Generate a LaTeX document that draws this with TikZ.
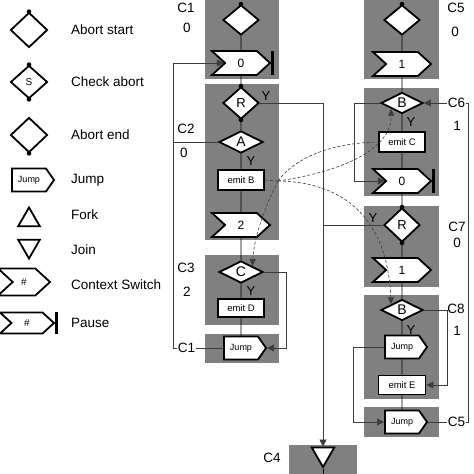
\documentclass[tikz,border=0pt]{standalone}
\usepackage{fontspec}
\setmainfont{Liberation Sans}
\usetikzlibrary{arrows.meta,positioning,shapes.geometric,shapes.symbols}
\definecolor{block_gray}{RGB}{128,128,128}
\definecolor{wire_gray}{RGB}{60,60,60}

\begin{document}
\begin{tikzpicture}[
      x=1pt, y=-1pt,
      abort/.style={
         diamond,
         draw=black,
         fill=white,
         line width=1.8pt,
         inner sep=0pt,
         minimum width=36pt,
         minimum height=30pt,
         font=\fontsize{10}{10}\selectfont},
      check/.style={
         abort,
         minimum height=32pt,
         font=\fontsize{13}{13}\selectfont},
      test/.style={
         abort,
         minimum width=44pt,
         minimum height=22pt,
         font=\fontsize{14}{14}\selectfont},
      emitbox/.style={
         rectangle,
         draw=black,
         fill=white,
         line width=1.8pt,
         inner sep=0pt,
         minimum width=46pt,
         minimum height=20pt,
         font=\fontsize{9.5}{9.5}\selectfont},
      jumpbox/.style={
         signal,
         signal to=east,
         signal pointer angle=110,
         draw=black,
         fill=white,
         line width=1.8pt,
         inner sep=0pt,
         minimum width=42pt,
         minimum height=23pt,
         font=\fontsize{9}{9}\selectfont},
      switchbox/.style={
         signal,
         signal to=east,
         signal from=west,
         signal pointer angle=85,
         draw=black,
         fill=white,
         line width=1.8pt,
         inner sep=0pt,
         minimum width=58pt,
         minimum height=24pt,
         font=\fontsize{12}{12}\selectfont},
      forkjoin/.style={
         regular polygon,
         regular polygon sides=3,
         draw=black,
         fill=white,
         line width=1.8pt,
         inner sep=0pt,
         minimum size=26pt},
      pausebar/.style={draw=black, line width=2.4pt},
      trunk/.style={draw=black, line width=0.8pt},
      wire/.style={draw=wire_gray, line width=0.6pt},
      arrow_wire/.style={wire, -{Triangle[length=7pt,width=7pt]}},
      sig_dash/.style={draw=wire_gray, dash pattern=on 3pt off 2pt, line width=0.6pt},
      arrow_sig/.style={sig_dash, -{Triangle[length=7pt,width=6pt]}},
      lbl/.style={font=\fontsize{13.5}{14}\selectfont, inner sep=1pt},
   ]
   \clip (0,0) rectangle (474,474);
   \useasboundingbox (0,0) rectangle (474,474);

   % legend
   \node[abort, minimum width=37pt, minimum height=35pt] (key_start) at (29,30) {};
   \node[abort, minimum width=37pt, minimum height=33pt] (key_check) at (29,82) {S};
   \node[abort, minimum width=37pt, minimum height=35pt] (key_end) at (29,135) {};
   \node[jumpbox] (key_jump) at (29,180) {Jump};
   \node[forkjoin, minimum size=25pt] (key_fork) at (29,220) {};
   \node[forkjoin, minimum size=25pt, shape border rotate=180] (key_join) at (29,246) {};
   \node[switchbox, minimum width=52pt, minimum height=27pt, font=\fontsize{10}{10}\selectfont] (key_switch) at (24,282) {\#};
   \node[switchbox, minimum width=54pt, minimum height=21pt, font=\fontsize{10}{10}\selectfont] (key_pause) at (27,323) {\#};

   \node[lbl, anchor=west] (key_start_txt) at (70,30) {Abort start};
   \node[lbl, anchor=west] (key_check_txt) at (70,82) {Check abort};
   \node[lbl, anchor=west] (key_end_txt) at (70,135) {Abort end};
   \node[lbl, anchor=west] (key_jump_txt) at (70,180) {Jump};
   \node[lbl, anchor=west] (key_fork_txt) at (70,215) {Fork};
   \node[lbl, anchor=west] (key_join_txt) at (70,250) {Join};
   \node[lbl, anchor=west] (key_switch_txt) at (70,285) {Context Switch};
   \node[lbl, anchor=west] (key_pause_txt) at (70,323) {Pause};

   % blocks
   \fill[block_gray] (205,0) rectangle (279,79);
   \fill[block_gray] (205,84) rectangle (279,240);
   \fill[block_gray] (205,255) rectangle (279,325);
   \fill[block_gray] (205,334) rectangle (279,363);
   \fill[block_gray] (289,445) rectangle (357,480);
   \fill[block_gray] (364,0) rectangle (439,79);
   \fill[block_gray] (364,88) rectangle (439,196);
   \fill[block_gray] (364,206) rectangle (439,287);
   \fill[block_gray] (364,295) rectangle (439,399);
   \fill[block_gray] (364,407) rectangle (439,437);

   % left thread
   \node[abort] (as1) at (241,20) {};
   \node[switchbox] (ps1) at (241,63) {0};
   \node[check] (r2) at (241,103) {R};
   \node[test] (a2) at (241,142) {A};
   \node[emitbox] (eb) at (241,180) {emit B};
   \node[switchbox] (cs2) at (241,225) {2};
   \node[test] (c3) at (241,272) {C};
   \node[emitbox, minimum height=18pt] (ed) at (241,308) {emit D};
   \node[jumpbox] (jp1) at (241,348) {Jump};

   % right thread
   \node[abort] (as5) at (402,20) {};
   \node[switchbox] (cs5) at (402,64) {1};
   \node[test, minimum width=42pt, minimum height=21pt] (b6) at (402,103) {B};
   \node[emitbox] (ec) at (402,142) {emit C};
   \node[switchbox] (ps6) at (402,181) {0};
   \node[check, minimum height=34pt] (r7) at (402,225) {R};
   \node[switchbox] (cs7) at (402,270) {1};
   \node[test, minimum width=42pt, minimum height=21pt] (b8) at (402,310) {B};
   \node[jumpbox] (jp8) at (402,347) {Jump};
   \node[emitbox, minimum width=47pt, minimum height=19pt] (ee) at (402,385) {emit E};
   \node[jumpbox] (jp5) at (402,422) {Jump};

   % join
   \node[forkjoin, shape border rotate=180] (j4) at (323,454) {};

   % block labels
   \foreach \n/\x/\y/\txt in {
      c1_name/186/8/C1, c1_num/187/28/0,
      c2_name/186/129/C2, c2_num/184/153/0,
      c3_name/186/268/C3, c3_num/187/292/2,
      c4_name/272/458/C4,
      c5_name/456/8/C5, c5_num/455/32/0,
      c6_num/457/126/1,
      c7_name/457/227/C7, c7_num/457/243/0,
      c8_name/456/309/C8, c8_num/457/331/1}
      \node[lbl] (\n) at (\x,\y) {\txt};

   % branch labels
   \foreach \n/\x/\y in {y_r2/266/96, y_a2/251/161, y_c3/251/291,
                         y_b6/411/122, y_r7/373/218, y_b8/411/330}
      \node[lbl, font=\fontsize{13}{13}\selectfont] (\n) at (\x,\y) {Y};

   % abort marks
   \foreach \n in {key_start.north, key_check.north, key_check.south,
                   key_end.south, as1.north, as5.north,
                   r2.north, r2.south, r7.north, r7.south}
      \fill (\n) circle (2.3pt);

   % pause bars
   \foreach \p in {ps1, ps6}
      \draw[pausebar] ([xshift=1pt,yshift=12pt]\p.east) -- ([xshift=1pt,yshift=-12pt]\p.east);
   \draw[pausebar] ([xshift=1pt,yshift=11pt]key_pause.east) -- ([xshift=1pt,yshift=-11pt]key_pause.east);

   % control flow
   \draw[trunk] (as1) -- (ps1) -- (r2) -- (a2) -- (eb) -- (cs2) -- (c3) -- (ed) -- (jp1);
   \draw[trunk] (as5) -- (cs5) -- (b6) -- (ec) -- (ps6) -- (r7) -- (cs7) -- (b8) -- (jp8) -- (ee) -- (jp5);

   \coordinate (left_bus) at (173,0);
   \coordinate (c_bus) at (286,0);
   \coordinate (join_bus) at (323,0);
   \coordinate (b6_bus) at (354,0);
   \coordinate (jp8_bus) at (353,0);
   \coordinate (b8_bus) at (447,0);
   \coordinate (back_bus) at (468,0);

   \draw[arrow_wire] (jp1.west) -- node[lbl, fill=white, pos=0.73] (c1_back) {C1} (jp1.west -| left_bus)
      -- (ps1.west -| left_bus) -- (ps1.west);
   \draw[wire] (a2.west) -- (a2.west -| left_bus);
   \draw[arrow_wire] (c3.east) -- (c3.east -| c_bus) -- (jp1.east -| c_bus) -- (jp1.east);
   \draw[arrow_wire] (r2.east) -- (r2.east -| join_bus) -- (j4.north);
   \draw[wire] (r7.west) -- (r7.west -| join_bus);
   \draw[arrow_wire] (b6.west) -- (b6.west -| b6_bus) -- (ps6.west -| b6_bus) -- (ps6.west);
   \draw[arrow_wire] (jp5.east) -- node[lbl, fill=white, pos=0.71] (c5_back) {C5} (jp5.east -| back_bus)
      -- (b6.east -| back_bus) -- node[lbl, fill=white, pos=0.26] (c6_name) {C6} (b6.east);
   \draw[arrow_wire] (b8.east) -- (b8.east -| b8_bus) -- (ee.east -| b8_bus) -- (ee.east);
   \draw[arrow_wire] (jp8.west) -- (jp8.west -| jp8_bus) -- (jp5.west -| jp8_bus) -- (jp5.west);
   \draw[trunk] (j4.south) -- ++(0,20);

   % signals from emit B
   \coordinate (sig_hub) at (278,181);
   \draw[sig_dash] (eb.east) -- (sig_hub);
   \draw[sig_dash] (sig_hub) .. controls (295,158) and (330,143) .. (ec.west);
   \draw[arrow_sig] (sig_hub) .. controls (340,172) and (392,150) .. (b6.south west);
   \draw[arrow_sig] (sig_hub) .. controls (350,182) and (388,225) .. (b8.north west);
   \draw[arrow_sig] (sig_hub) .. controls (268,200) and (254,235) .. (c3.north east);
\end{tikzpicture}
\end{document}
